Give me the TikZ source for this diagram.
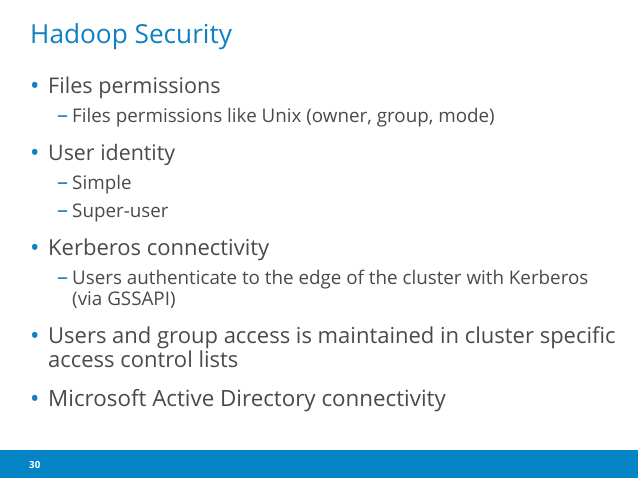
\documentclass[tikz,border=0pt]{standalone}
\usepackage{fontspec}
\setmainfont{Open Sans}
\definecolor{dtitle}{HTML}{0F80C4}
\definecolor{dbar}{HTML}{0585C5}
\definecolor{dtext}{HTML}{4A4A4A}
\definecolor{dbull}{HTML}{0F80C4}
\newcommand{\fsz}[1]{\fontsize{#1}{26}\selectfont}
\tikzset{
 px/.style={x=1pt,y=-1pt},
 ttl/.style={anchor=base west,inner sep=0,text=dtitle,font=\fontsize{26.2}{30}\selectfont},
 lone/.style={anchor=base west,inner sep=0,text=dtext,font=\fontsize{22}{26}\selectfont},
 ltwo/.style={anchor=base west,inner sep=0,text=dtext,font=\fontsize{18.8}{22}\selectfont},
 mark1/.style={anchor=base west,inner sep=0,text=dbull,yshift=-1pt,font=\fontsize{25}{28}\selectfont},
 mark2/.style={anchor=base west,inner sep=0,text=dbull,font=\fontsize{22}{22}\selectfont},
 pnum/.style={anchor=base west,inner sep=0,text=white,font=\fontsize{9.8}{12}\selectfont\bfseries}
}
\begin{document}
\begin{tikzpicture}[px]
\useasboundingbox (0,0) rectangle (638,478);
\fill[white] (0,0) rectangle (638,478);
\fill[dbar] (0,450.5) rectangle (638,478);
\node[ttl] (title) at (30,44) {Hadoop Security};
\node[mark1] (b1) at (30,93.5) {•}; \node[lone,font=\fsz{21.6}] (t1) at (48,93.5) {Files permissions};
\node[mark2] (d1) at (57,123) {–}; \node[ltwo] (s1) at (72,123) {Files permissions like Unix (owner, group, mode)};
\node[mark1] (b2) at (30,160.5) {•}; \node[lone,font=\fsz{21.4}] (t2) at (48,160.5) {User identity};
\node[mark2] (d2) at (57,189.5) {–}; \node[ltwo] (s2) at (72,189.5) {Simple};
\node[mark2] (d3) at (57,217.5) {–}; \node[ltwo] (s3) at (72,217.5) {Super-user};
\node[mark1] (b3) at (30,255.7) {•}; \node[lone] (t3) at (48,255.7) {Kerberos connectivity};
\node[mark2] (d4) at (57,284.5) {–}; \node[ltwo] (s4) at (72,284.5) {Users authenticate to the edge of the cluster with Kerberos};
\node[ltwo] (s5) at (72,305.5) {(via GSSAPI)};
\node[mark1] (b4) at (30,343.5) {•}; \node[lone] (t4) at (48,343.5) {Users and group access is maintained in cluster specific};
\node[lone] (t5) at (48,367.5) {access control lists};
\node[mark1] (b5) at (30,406.3) {•}; \node[lone,font=\fsz{22.35}] (t6) at (48,406.3) {Microsoft Active Directory connectivity};
\node[pnum] (pg) at (29,468.5) {30};
\end{tikzpicture}
\end{document}
